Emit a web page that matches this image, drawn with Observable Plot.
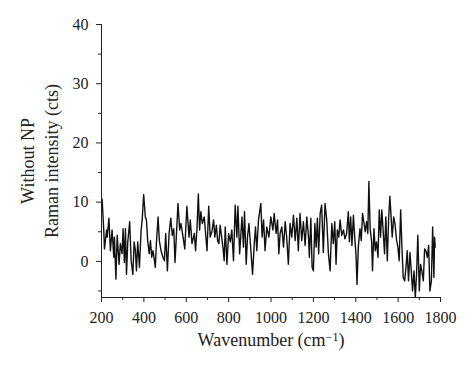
<!DOCTYPE html>
<html>
<head>
<meta charset="utf-8">
<script src="https://cdn.jsdelivr.net/npm/d3@7"></script>
<script src="https://cdn.jsdelivr.net/npm/@observablehq/plot@0.6"></script>
<style>
  html, body { margin: 0; padding: 0; background: #fff; }
</style>
</head>
<body>
<div id="chart"></div>
<script>
const wavenumber = [203,211,214,224,227,235,242,250,258,261,268,274,283,289,297,302,308,313,318,324,333,340,348,354,360,365,371,379,387,392,399,407,412,418,425,431,437,443,450,454,459,467,473,481,490,497,503,511,519,527,534,541,547,553,561,569,575,585,593,603,613,619,627,638,644,651,657,663,669,676,685,698,706,713,721,729,735,742,748,754,760,773,779,784,792,800,808,815,823,831,839,844,852,863,870,875,883,889,896,905,913,921,927,933,941,952,958,965,972,980,990,999,1009,1015,1024,1031,1037,1043,1051,1059,1067,1074,1082,1090,1098,1106,1114,1122,1129,1137,1145,1153,1161,1169,1177,1181,1188,1194,1200,1207,1213,1219,1225,1232,1239,1247,1255,1263,1271,1279,1287,1294,1301,1307,1313,1320,1326,1334,1342,1349,1357,1365,1370,1376,1382,1389,1395,1401,1406,1412,1420,1426,1432,1439,1445,1451,1457,1462,1468,1475,1479,1486,1492,1498,1505,1511,1517,1523,1530,1536,1542,1549,1555,1561,1566,1572,1579,1585,1593,1599,1605,1612,1618,1624,1631,1637,1643,1649,1656,1662,1668,1675,1681,1687,1693,1700,1706,1712,1719,1725,1731,1738,1744,1750,1757,1763,1769,1772,1775];
const intensity = [10.5,5.0,2.1,5.3,4.1,7.3,1.8,5.3,0.7,4.1,-3.0,4.4,-0.5,3.0,1.3,5.5,-0.2,5.5,-2.2,3.3,6.7,0.1,-2.2,3.3,1.8,-1.6,3.3,-1.0,5.3,7.0,11.3,7.5,7.0,3.5,1.3,3.5,0.7,1.8,0.1,-1.0,3.0,7.5,3.5,1.8,0.7,0.1,4.7,-1.6,4.7,7.3,4.4,5.5,-0.2,4.1,9.8,5.3,6.4,4.1,2.1,9.3,4.1,7.0,3.0,4.7,1.8,5.8,11.4,5.3,8.4,6.4,7.5,1.8,9.3,4.1,5.0,7.0,4.1,6.1,3.5,3.0,6.1,2.4,0.1,5.8,-0.5,4.7,3.3,5.3,0.1,9.5,4.1,9.3,1.3,7.5,2.4,8.4,-0.5,4.1,6.4,1.8,-2.2,3.0,5.8,1.8,7.0,9.8,4.1,7.0,1.8,5.8,4.1,7.5,5.3,8.1,4.7,7.0,1.3,4.7,5.8,2.4,6.7,4.1,-0.5,6.4,4.1,7.8,3.5,7.3,1.8,8.1,3.5,6.7,2.7,7.5,4.1,0.7,7.3,-1.0,-1.6,6.4,2.4,7.3,1.3,8.1,9.5,1.5,9.8,7.0,1.3,-1.6,6.4,3.0,6.7,-0.5,5.3,4.1,7.0,4.4,5.3,3.8,4.7,8.4,3.3,7.5,2.7,7.8,4.1,1.3,-3.9,2.4,5.5,3.5,8.1,6.4,5.0,6.7,4.7,13.5,5.5,3.3,-1.6,5.5,1.8,3.3,0.7,8.7,4.1,8.7,4.7,1.3,7.5,0.1,7.0,11.0,8.1,4.1,7.5,6.4,3.5,2.4,0.1,8.7,2.4,-2.7,-3.3,-1.0,1.8,-3.3,1.5,-1.6,-5.0,-1.6,-6.2,-2.2,4.4,-5.0,-0.5,-1.6,-3.3,2.1,1.8,0.7,2.7,-5.0,-3.3,5.8,-2.7,4.1,2.4];
const xTicks = [200,400,600,800,1000,1200,1400,1600,1800];
const xMinor = [300,500,700,900,1100,1300,1500,1700];
const yTicks = [0,10,20,30,40];
const yMinor = [-5,5,15,25,35];
const xLabel = "Wavenumber (cm−1)";
const yLabel = "Without NP\nRaman intensity (cts)";

const data = wavenumber.map((w, i) => ({w, v: intensity[i]}));

const chart = Plot.plot({
  width: 474,
  height: 368,
  marginLeft: 101,
  marginRight: 34,
  marginTop: 24,
  marginBottom: 71,
  x: {domain: [200, 1800]},
  y: {domain: [-6.1, 40]},
  style: {fontFamily: "'Liberation Serif', 'DejaVu Serif', serif", fontSize: "16px", color: "#222", background: "#fff"},
  marks: [
    Plot.line(data, {x: "w", y: "v", stroke: "#111", strokeWidth: 1.4, clip: true}),
    Plot.axisY({ticks: yTicks, tickSize: 5, tickPadding: 8, label: null, fontSize: 16, tickFormat: d => String(d)}),
    Plot.axisY({ticks: yMinor, tickSize: 3, text: null, label: null}),
    Plot.axisX({ticks: xTicks, tickSize: 5, tickPadding: 9, label: null, fontSize: 16, tickFormat: d => String(d)}),
    Plot.axisX({ticks: xMinor, tickSize: 3, text: null, label: null}),
    Plot.frame({anchor: "left", stroke: "#222"}),
    Plot.frame({anchor: "bottom", stroke: "#222"}),
    Plot.text([xLabel], {text: d => d, frameAnchor: "bottom", dy: 43, fontSize: 18, lineAnchor: "middle", fill: "#222"}),
    Plot.text([yLabel], {text: d => d, frameAnchor: "left", dx: -63, rotate: -90, fontSize: 18, lineHeight: 1.3, lineAnchor: "middle", textAnchor: "middle", fill: "#222"})
  ]
});

document.getElementById("chart").appendChild(chart);

// superscript for the x label
d3.select(chart).selectAll("text").filter(function() { return this.textContent === xLabel; })
  .each(function() {
    const t = d3.select(this);
    t.text(null);
    t.append("tspan").text("Wavenumber (cm");
    t.append("tspan").attr("font-size", 12).attr("dy", "-0.45em").text("−1");
    t.append("tspan").attr("dy", "0.3em").text(")");
  });
</script>
</body>
</html>
